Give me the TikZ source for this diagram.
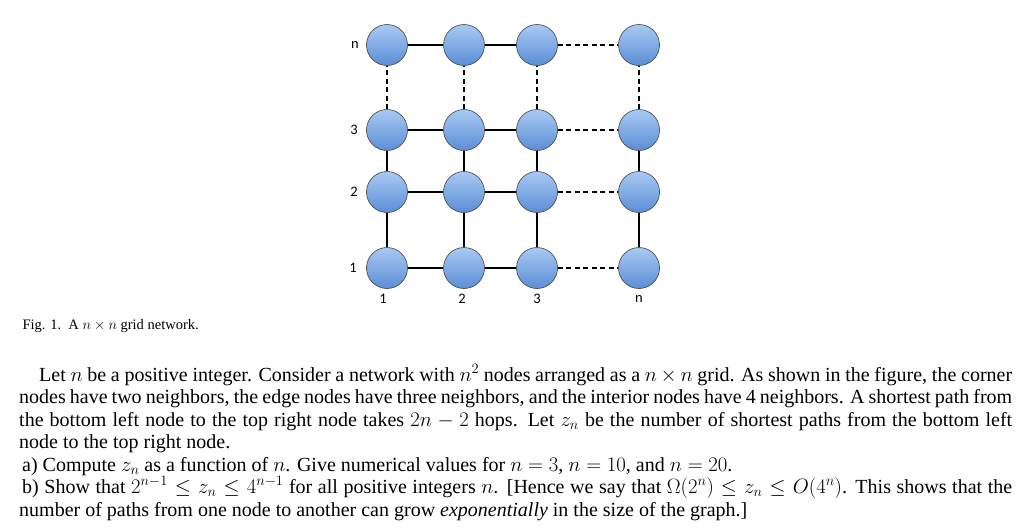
\documentclass[tikz,border=0pt]{standalone}
\usepackage{fontspec}
\setmainfont{Liberation Serif}
\newfontfamily\lblfont{Carlito}
\usetikzlibrary{calc}
\definecolor{ntop}{HTML}{A9C9F2}
\definecolor{nbot}{HTML}{5A8ED6}
\begin{document}
\begin{tikzpicture}[x=1pt,y=-1pt,
  gnode/.style={circle,draw=black!75,line width=0.6pt,minimum size=41pt,inner sep=0pt,top color=ntop,bottom color=nbot},
  solidedge/.style={line width=1.2pt},
  dashedge/.style={line width=1.2pt,dash pattern=on 5pt off 3.5pt},
  lbl/.style={font=\lblfont\fontsize{14.5}{16}\selectfont}]
\useasboundingbox (0,0) rectangle (1024,528);
\foreach \c/\x in {1/387,2/464,3/537,4/639}{
  \foreach \r/\y in {1/268,2/192,3/130,4/45}{
    \node[gnode] (n\c\r) at (\x,\y) {};
  }
}
\foreach \r in {1,2,3,4}{
  \draw[solidedge] (n1\r) -- (n2\r);
  \draw[solidedge] (n2\r) -- (n3\r);
  \draw[dashedge] (n3\r) -- (n4\r);
}
\foreach \c in {1,2,3,4}{
  \draw[solidedge] (n\c1) -- (n\c2);
  \draw[solidedge] (n\c2) -- (n\c3);
  \draw[dashedge] (n\c3) -- (n\c4);
}
\node[lbl] (rn) at (355,45) {n};
\node[lbl] (r3) at (354,130) {3};
\node[lbl] (r2) at (354,192) {2};
\node[lbl] (r1) at (353,268) {1};
\node[lbl] (c1) at (383,299) {1};
\node[lbl] (c2) at (462,299) {2};
\node[lbl] (c3) at (537,299) {3};
\node[lbl] (cn) at (639,299) {n};
\node[anchor=west,font=\fontsize{14.5}{16}\selectfont] (cap) at (19,326) {Fig. 1.\ \ A $n\times n$ grid network.};
\node[anchor=north west,inner sep=0pt,text width=993pt,align=justify,font=\fontsize{20}{22.5}\selectfont] (txt) at (19,364) {%
\hspace*{20pt}Let $n$ be a positive integer. Consider a network with $n^2$ nodes arranged as a $n\times n$ grid. As shown in the figure, the corner\linebreak
nodes have two neighbors, the edge nodes have three neighbors, and the interior nodes have 4 neighbors. A shortest path from\linebreak
the bottom left node to the top right node takes $2n-2$ hops. Let $z_n$ be the number of shortest paths from the bottom left\linebreak
node to the top right node.\\
\hspace*{3pt}a) Compute $z_n$ as a function of $n$. Give numerical values for $n=3$, $n=10$, and $n=20$.\\
\hspace*{3pt}b) Show that $2^{n-1}\le z_n\le 4^{n-1}$ for all positive integers $n$. [Hence we say that $\Omega(2^n)\le z_n\le O(4^n)$. This shows that the\linebreak
number of paths from one node to another can grow \emph{exponentially} in the size of the graph.]};
\end{tikzpicture}
\end{document}
